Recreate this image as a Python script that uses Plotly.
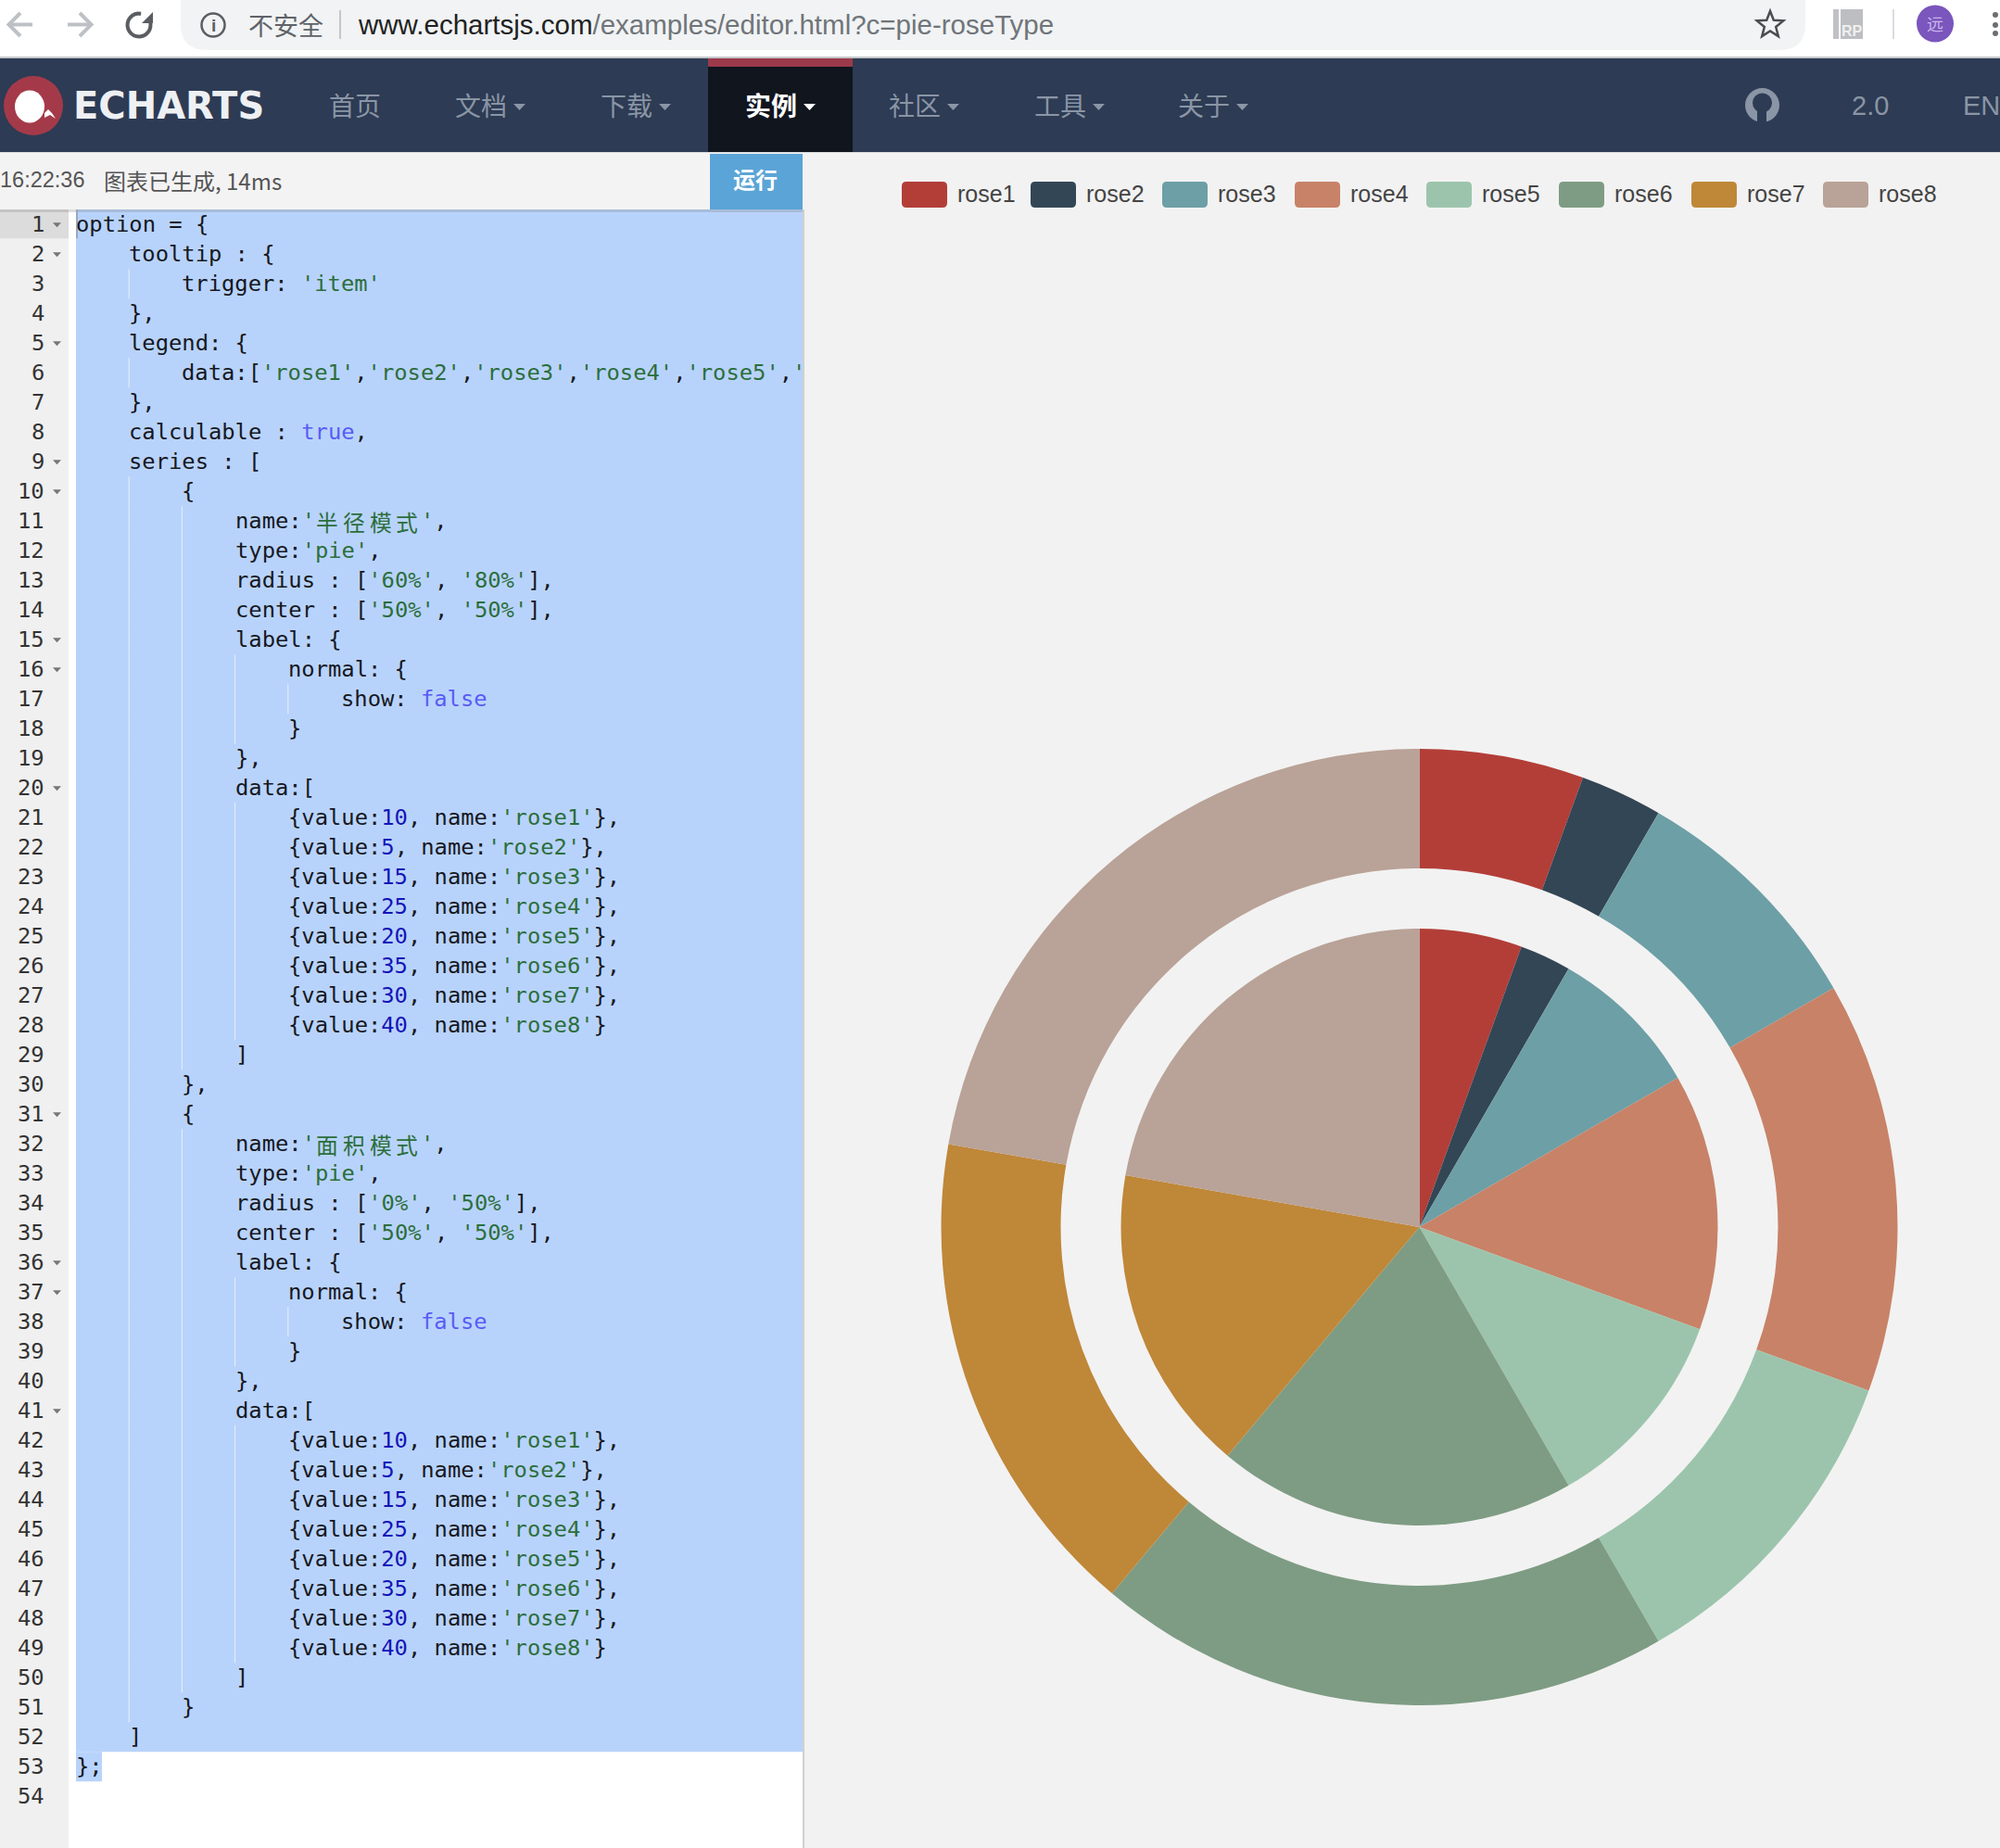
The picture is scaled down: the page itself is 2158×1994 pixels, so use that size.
import re
import math
import plotly.graph_objs as go

W = 2158
H = 1994

# data
names = ['rose1', 'rose2', 'rose3', 'rose4', 'rose5', 'rose6', 'rose7', 'rose8']
values_outer = [10, 5, 15, 25, 20, 35, 30, 40]
values_inner = [10, 5, 15, 25, 20, 35, 30, 40]
colors = ['#b33e38', '#334655', '#6d9fa6', '#c88267', '#9cc4ac', '#7e9c83', '#bf8738', '#b9a297']

nav_items = ['首页', '文档', '下载', '实例', '社区', '工具', '关于']
nav_left = [355, 491, 648, 804, 959, 1116, 1271]
nav_caret = [False, True, True, True, True, True, True]

code_lines = [
    "option = {",
    "    tooltip : {",
    "        trigger: 'item'",
    "    },",
    "    legend: {",
    "        data:['rose1','rose2','rose3','rose4','rose5','",
    "    },",
    "    calculable : true,",
    "    series : [",
    "        {",
    "            name:'半径模式',",
    "            type:'pie',",
    "            radius : ['60%', '80%'],",
    "            center : ['50%', '50%'],",
    "            label: {",
    "                normal: {",
    "                    show: false",
    "                }",
    "            },",
    "            data:[",
    "                {value:10, name:'rose1'},",
    "                {value:5, name:'rose2'},",
    "                {value:15, name:'rose3'},",
    "                {value:25, name:'rose4'},",
    "                {value:20, name:'rose5'},",
    "                {value:35, name:'rose6'},",
    "                {value:30, name:'rose7'},",
    "                {value:40, name:'rose8'}",
    "            ]",
    "        },",
    "        {",
    "            name:'面积模式',",
    "            type:'pie',",
    "            radius : ['0%', '50%'],",
    "            center : ['50%', '50%'],",
    "            label: {",
    "                normal: {",
    "                    show: false",
    "                }",
    "            },",
    "            data:[",
    "                {value:10, name:'rose1'},",
    "                {value:5, name:'rose2'},",
    "                {value:15, name:'rose3'},",
    "                {value:25, name:'rose4'},",
    "                {value:20, name:'rose5'},",
    "                {value:35, name:'rose6'},",
    "                {value:30, name:'rose7'},",
    "                {value:40, name:'rose8'}",
    "            ]",
    "        }",
    "    ]",
    "};",
    "",
]
fold_lines = [1, 2, 5, 9, 10, 15, 16, 20, 31, 36, 37, 41]

NAV = '#2d3b54'
BG = '#f2f2f2'
SEL = '#b8d3fb'
CJK = 'Noto Sans CJK SC'
MONO = 'DejaVu Sans Mono'
SANS = 'Liberation Sans'

CX, CY = 1531.5, 1324
R_OUT = 516
R_IN = 322

shapes = []
annotations = []


def fx(x):
    return x / W


def fy(y):
    return 1 - y / H


def rect(x0, y0, x1, y1, color):
    shapes.append(dict(type='rect', xref='paper', yref='paper', layer='below',
                       x0=fx(x0), x1=fx(x1), y0=fy(y0), y1=fy(y1),
                       fillcolor=color, line=dict(width=0)))


def ellipse(cx, cy, rx, ry, color, line_color=None, line_width=0):
    shapes.append(dict(type='circle', xref='paper', yref='paper', layer='below',
                       x0=fx(cx - rx), x1=fx(cx + rx), y0=fy(cy - ry), y1=fy(cy + ry),
                       fillcolor=color, line=dict(width=line_width, color=line_color or color)))


def path(points, fill=None, line_color=None, line_width=0, close=False):
    d = 'M' + ' L'.join(f'{fx(x):.5f},{fy(y):.5f}' for x, y in points)
    if close:
        d += ' Z'
    shapes.append(dict(type='path', xref='paper', yref='paper', layer='below', path=d,
                       fillcolor=fill if fill else 'rgba(0,0,0,0)',
                       line=dict(width=line_width, color=line_color or 'rgba(0,0,0,0)')))


def round_rect(x0, y0, x1, y1, r, color):
    p = (f'M{fx(x0 + r):.5f},{fy(y0):.5f} L{fx(x1 - r):.5f},{fy(y0):.5f} '
         f'Q{fx(x1):.5f},{fy(y0):.5f} {fx(x1):.5f},{fy(y0 + r):.5f} '
         f'L{fx(x1):.5f},{fy(y1 - r):.5f} Q{fx(x1):.5f},{fy(y1):.5f} {fx(x1 - r):.5f},{fy(y1):.5f} '
         f'L{fx(x0 + r):.5f},{fy(y1):.5f} Q{fx(x0):.5f},{fy(y1):.5f} {fx(x0):.5f},{fy(y1 - r):.5f} '
         f'L{fx(x0):.5f},{fy(y0 + r):.5f} Q{fx(x0):.5f},{fy(y0):.5f} {fx(x0 + r):.5f},{fy(y0):.5f} Z')
    shapes.append(dict(type='path', xref='paper', yref='paper', layer='below', path=p,
                       fillcolor=color, line=dict(width=0)))


def text(x, y, s, size, color, family=SANS, anchor='left', bold=False):
    if bold:
        s = f'<b>{s}</b>'
    annotations.append(dict(xref='paper', yref='paper', x=fx(x), y=fy(y), text=s,
                            showarrow=False, xanchor=anchor, yanchor='middle',
                            borderpad=0, borderwidth=0,
                            font=dict(size=size, color=color, family=family)))


# backgrounds
rect(0, 0, W, 62, '#ffffff')
rect(0, 61, W, 63, '#c4c6c9')
rect(0, 63, W, 164, NAV)
rect(0, 164, W, 165, '#d8dadd')
rect(0, 165, 868, 226, '#f3f3f3')
rect(0, 226, 868, H, '#ffffff')
rect(0, 226, 74, H, '#f0f0f0')
rect(868, 165, W, H, BG)
rect(866, 226, 868, H, '#d0d0d0')

# browser bar
round_rect(195, -30, 1948, 54, 28, '#f1f3f4')
ARROW = '#bdc1c6'
path([(35, 26.5), (10, 26.5)], line_color=ARROW, line_width=4)
path([(22, 14), (9.5, 26.5), (22, 39)], line_color=ARROW, line_width=4)
path([(73, 26.5), (98, 26.5)], line_color=ARROW, line_width=4)
path([(86, 14), (98.5, 26.5), (86, 39)], line_color=ARROW, line_width=4)
arc = [(150 + 12.5 * math.cos(math.radians(a)), 27 + 12.5 * math.sin(math.radians(a))) for a in range(-35, 290, 15)]
path(arc, line_color='#5a5d61', line_width=4)
path([(165, 13), (165, 25), (153, 25)], fill='#5a5d61', close=True)
ellipse(230, 27, 12.5, 12.5, 'rgba(0,0,0,0)', '#5a5d61', 2.5)
text(230, 27, 'i', 19, '#5a5d61', anchor='center', bold=True)
text(268, 26, '不安全', 27, '#5f6368', CJK)
rect(366, 11, 368, 42, '#c4c7ca')
text(386, 26, "<span style='color:#222'>www.echartsjs.com</span>"
     "<span style='color:#70757a'>/examples/editor.html?c=pie-roseType</span>", 29.5, '#222222')
star = []
for i in range(10):
    r = 15 if i % 2 == 0 else 6.5
    a = math.radians(-90 + i * 36)
    star.append((1910 + r * math.cos(a), 27 + r * math.sin(a)))
path(star, line_color='#4a4d50', line_width=2.5, close=True)
rect(1978, 10, 1984, 42, '#bfc1c4')
rect(1986, 10, 2010, 42, '#bcbec1')
text(1998, 34, 'RP', 16, '#f0f0f0', anchor='center', bold=True)
rect(2042, 10, 2044, 42, '#dadce0')
ellipse(2088, 25.5, 20, 20, '#7a56bd')
text(2088, 25.5, '远', 18, '#c9b4ea', CJK, anchor='center')
for dot_y in (16, 27, 36):
    ellipse(2153, dot_y, 3, 3, '#6a6e72')

# nav bar
ellipse(36, 114, 32, 32, '#a43a49')
ellipse(32, 115, 16, 17.5, '#ffffff')
path([(48, 122), (52, 118), (56, 122), (60, 128), (54, 124), (48, 127)], fill='#ffffff', close=True)
text(79, 114, 'ECHARTS', 40, '#eef0f3', 'DejaVu Sans', bold=True)
rect(764, 63, 920, 164, '#10151e')
rect(764, 63, 920, 72, '#9b3a4b')


def caret(x, y, color):
    path([(x, y - 3), (x + 13, y - 3), (x + 6.5, y + 4)], fill=color, close=True)


for i, item in enumerate(nav_items):
    active = item == '实例'
    col = '#ffffff' if active else '#8a95a5'
    text(nav_left[i], 113, item, 28, col, CJK, bold=active)
    if nav_caret[i]:
        caret(nav_left[i] + 63, 115, col)

# github mark
ellipse(1901.5, 113.5, 18.5, 18.5, '#8a95a5')
ellipse(1901.5, 111, 10.5, 10.5, NAV)
rect(1896, 118, 1906, 133, NAV)
text(1998, 114, '2.0', 29, '#8a95a5')
text(2118, 114, 'EN', 29, '#8a95a5')

# toolbar
text(0, 194, '16:22:36', 23.5, '#555555', SANS)
text(112, 194, '图表已生成, 14ms', 24, '#555555', CJK)
rect(766, 166, 866, 226, '#5ba4d7')
text(815, 192, '运行', 24, '#ffffff', CJK, anchor='center', bold=True)

# editor
LINE_H = 32.0
LINE0 = 242.2
CHAR_W = 14.3
TXT_X = 82
MONO_SIZE = 23.8
C_PLAIN = '#16181f'
C_STR = '#2c6e3c'
C_NUM = '#1414b8'
C_BOOL = '#585cf6'


def line_y(n):
    return LINE0 + (n - 1) * LINE_H


rect(82, 226, 866, line_y(52) + 16, SEL)
rect(82, line_y(53) - 16, 110, line_y(53) + 16, SEL)
rect(0, 226, 74, line_y(1) + 15, '#dcdcdc')
rect(0, 226, 866, 229, 'rgba(120,120,120,0.25)')
rect(82, 226, 84, line_y(1) + 15, '#9aa8c0')


def char_colors(line):
    cols = [C_PLAIN] * len(line)
    for m in re.finditer(r"\d+(?![\d%'a-z])", line):
        for k in range(m.start(), m.end()):
            cols[k] = C_NUM
    for m in re.finditer(r"\b(true|false)\b", line):
        for k in range(m.start(), m.end()):
            cols[k] = C_BOOL
    quote = False
    for k, ch in enumerate(line):
        if ch == "'":
            cols[k] = C_STR
            quote = not quote
        elif quote:
            cols[k] = C_STR
    return cols


def is_cjk(ch):
    return '\u4e00' <= ch <= '\u9fff'


def draw_run(run, cols, col, y):
    if not run:
        return
    parts = []
    start = 0
    for k in range(1, len(run) + 1):
        if k == len(run) or cols[k] != cols[start]:
            parts.append(f"<span style='color:{cols[start]}'>{run[start:k]}</span>")
            start = k
    text(TXT_X + col * CHAR_W, y, ''.join(parts), MONO_SIZE, C_PLAIN, MONO)


for n, line in enumerate(code_lines, start=1):
    y = line_y(n)
    text(48, y, str(n), MONO_SIZE, '#333333', MONO, anchor='right')
    if n in fold_lines:
        path([(57, y - 2), (66, y - 2), (61.5, y + 3)], fill='#777777', close=True)
    indent = len(line) - len(line.lstrip(' '))
    for lvl in range(1, indent // 4 + 1):
        if 4 * lvl < indent:
            gx = TXT_X + 4 * lvl * CHAR_W
            rect(gx - 0.5, y - 16, gx + 0.5, y + 16, '#e8eefb')
    body = line[indent:]
    cols = char_colors(line)[indent:]
    col = indent
    run_start = 0
    run_col = col
    for k, ch in enumerate(body):
        if is_cjk(ch):
            draw_run(body[run_start:k], cols[run_start:k], run_col, y)
            text(TXT_X + col * CHAR_W + 2, y, ch, MONO_SIZE, C_STR, CJK)
            col += 2
            run_start = k + 1
            run_col = col
        else:
            col += 1
    draw_run(body[run_start:], cols[run_start:], run_col, y)

# legend, drawn by hand to get the wide rounded swatches
leg_left = [973, 1112, 1254, 1397, 1539, 1682, 1825, 1967]
for i, name in enumerate(names):
    x = leg_left[i]
    round_rect(x, 196, x + 49, 224, 5, colors[i])
    text(x + 59.5, 209, name, 25, '#444444', SANS)

outer = go.Pie(labels=names, values=values_outer, name='半径模式', hole=0.75, sort=False,
               direction='clockwise', rotation=0, textinfo='none', showlegend=False,
               marker=dict(colors=colors, line=dict(width=0)),
               domain=dict(x=[fx(CX - R_OUT), fx(CX + R_OUT)], y=[fy(CY + R_OUT), fy(CY - R_OUT)]))
inner = go.Pie(labels=names, values=values_inner, name='面积模式', sort=False,
               direction='clockwise', rotation=0, textinfo='none', showlegend=False,
               marker=dict(colors=colors, line=dict(width=0)),
               domain=dict(x=[fx(CX - R_IN), fx(CX + R_IN)], y=[fy(CY + R_IN), fy(CY - R_IN)]))

layout = go.Layout(width=W, height=H, autosize=False, margin=dict(l=0, r=0, t=0, b=0, pad=0),
                   paper_bgcolor=BG, plot_bgcolor=BG, showlegend=False,
                   shapes=shapes, annotations=annotations)
fig = go.Figure(data=[outer, inner], layout=layout)
fig.write_html("out.html", config=dict(displayModeBar=False),
               post_script="document.body.style.margin='0';")
